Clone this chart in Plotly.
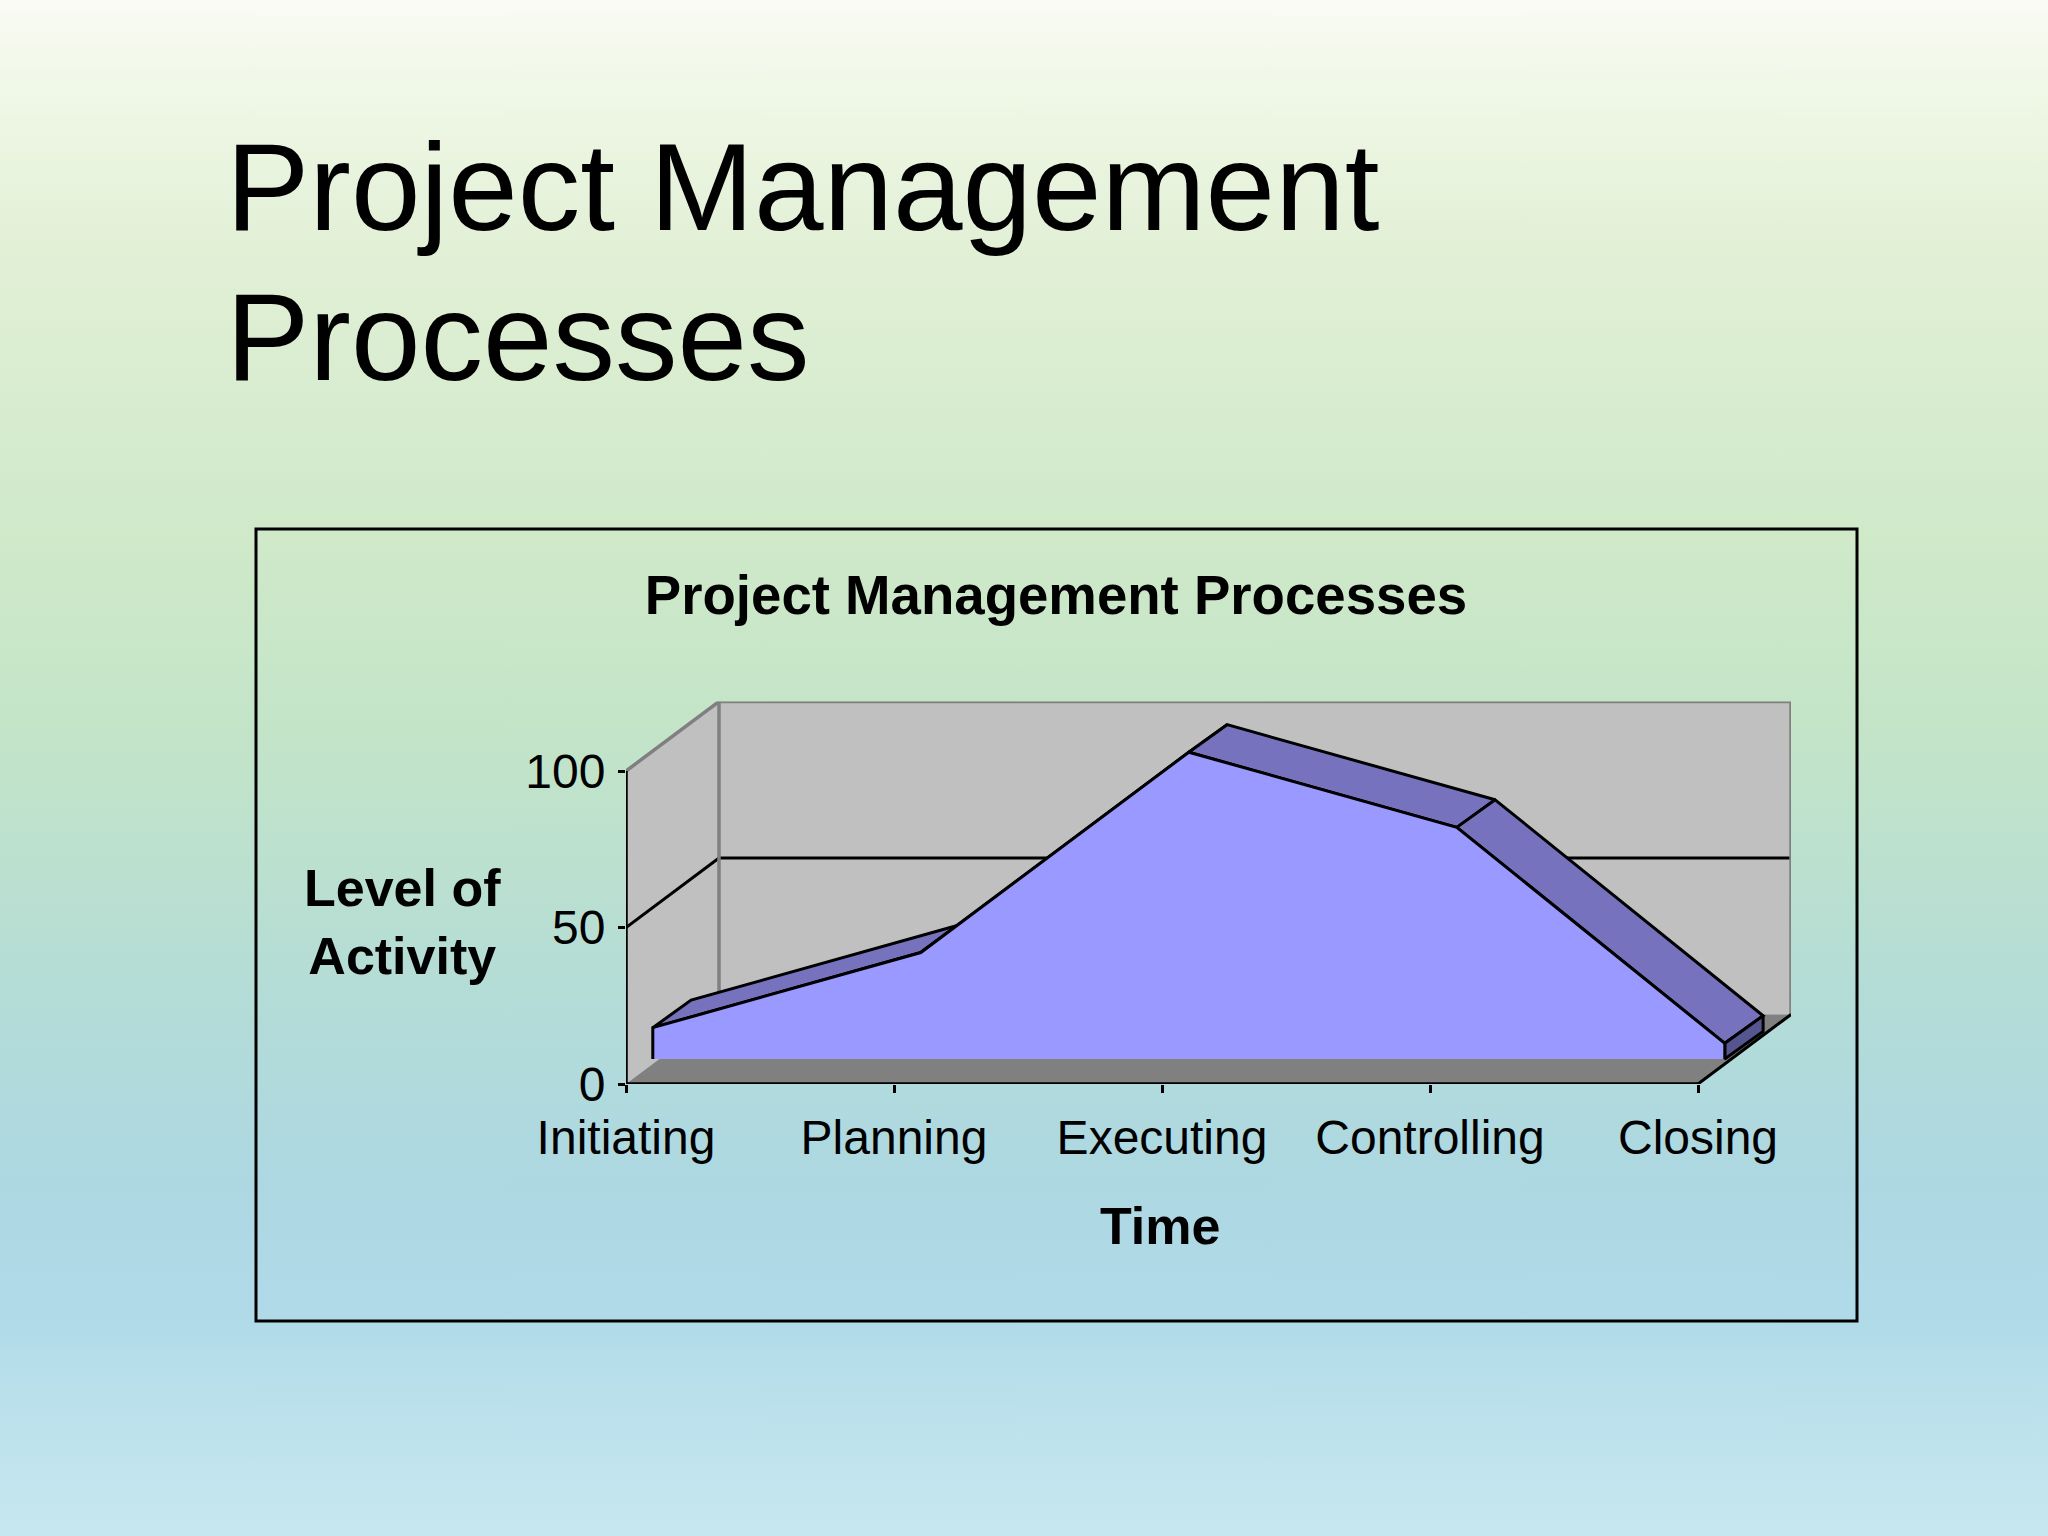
import plotly.graph_objects as go

SLIDE_TITLE = ['Project Management', 'Processes']
CHART_TITLE = 'Project Management Processes'
X_TITLE = 'Time'
Y_TITLE = 'Level of<br>Activity'

categories = ['Initiating', 'Planning', 'Executing', 'Controlling', 'Closing']
activity = [10, 34, 98, 74, 5]
y_ticks = [0, 50, 100]
grid_values = [50]

FONT = 'Liberation Sans'
WALL_COLOR = '#c0c0c0'
FLOOR_COLOR = '#808080'
EDGE_COLOR = '#808080'
FRONT_COLOR = '#9999ff'
TOP_COLOR = '#7672bd'
CAP_COLOR = '#55558f'
LINE_COLOR = '#000000'

# page gradient goes on the body, the figure itself is transparent
GRADIENT = ('linear-gradient(180deg, #fafbf5 0%, #f1f8e8 5%, #e2f0d6 16%, #cfe9c9 35%, '
            '#c3e4c8 48%, #bbe0d0 57%, #b2dbd9 67%, #add8e2 77%, #b0dae8 86%, '
            '#bce1ec 92%, #c6e7ef 100%)')
JAVASCRIPT = f'''document.body.style.margin = "0";
document.body.style.overflow = "hidden";
document.body.style.background = "{GRADIENT}";'''

W, H = 2048, 1536
LEFT, BOTTOM = 626, 1084
PX_PER_CAT = 268
PX_PER_UNIT = 3.13

# oblique projection of the 3d box, in axis units
WALL_DX, WALL_DY = 0.347, 22.2
FRONT_DX, FRONT_DY = 0.10, 8
BACK_DX, BACK_DY = 0.243, 16.8

x_top = len(categories) - 1 + WALL_DX
y_top = max(y_ticks) + WALL_DY
n = len(categories)

fig = go.Figure()


def poly(xs, ys, fill=None, line=None, width=3):
    fig.add_trace(go.Scatter(
        x=xs,
        y=ys,
        mode='lines',
        fill='toself' if fill else 'none',
        fillcolor=fill,
        line=dict(color=line or 'rgba(0,0,0,0)', width=width if line else 0),
        cliponaxis=False,
        hoverinfo='skip',
        showlegend=False
    ))


# walls and floor
ymax = max(y_ticks)
poly([0, WALL_DX, WALL_DX, 0], [0, WALL_DY, y_top, ymax], WALL_COLOR)
poly([WALL_DX, x_top, x_top, WALL_DX], [WALL_DY, WALL_DY, y_top, y_top], WALL_COLOR)
poly([0, n - 1, x_top, WALL_DX], [0, 0, WALL_DY, WALL_DY], FLOOR_COLOR)

# gridlines
for v in grid_values:
    poly([0, WALL_DX], [v, v + WALL_DY], line=LINE_COLOR)
    poly([WALL_DX, x_top], [v + WALL_DY, v + WALL_DY], line=LINE_COLOR)

# wall edges
poly([0, WALL_DX, x_top, x_top], [ymax, y_top, y_top, WALL_DY], line=EDGE_COLOR, width=3.5)
poly([WALL_DX, WALL_DX], [WALL_DY, y_top], line=EDGE_COLOR, width=3.5)

# series: top ribbons first, the front face covers what is behind it
fx = [i + FRONT_DX for i in range(n)]
fy = [v + FRONT_DY for v in activity]
bx = [i + BACK_DX for i in range(n)]
by = [v + BACK_DY for v in activity]

for i in range(n - 1):
    poly([fx[i], bx[i], bx[i + 1], fx[i + 1], fx[i]],
         [fy[i], by[i], by[i + 1], fy[i + 1], fy[i]], TOP_COLOR, LINE_COLOR)

poly([fx[-1], bx[-1], bx[-1], fx[-1], fx[-1]],
     [fy[-1], by[-1], BACK_DY, FRONT_DY, fy[-1]], CAP_COLOR, LINE_COLOR)

poly([fx[0]] + fx + [fx[-1]], [FRONT_DY] + fy + [FRONT_DY], FRONT_COLOR)
poly([fx[0]] + fx, [FRONT_DY] + fy, line=LINE_COLOR)
poly([fx[-1], fx[-1]], [fy[-1], FRONT_DY], line=LINE_COLOR)

# axis lines, only as long as the front plane
poly([0, 0], [0, ymax], line=LINE_COLOR, width=3.5)
poly([0, n - 1], [0, 0], line=LINE_COLOR, width=3.5)
poly([n - 1, x_top], [0, WALL_DY], line=LINE_COLOR)

fig.update_layout(
    width=W,
    height=H,
    margin=dict(l=0, r=0, t=0, b=0, autoexpand=False),
    paper_bgcolor='rgba(0,0,0,0)',
    plot_bgcolor='rgba(0,0,0,0)',
    font=dict(family=FONT, color='#000000'),
    title=dict(
        text=f'<b>{CHART_TITLE}</b>',
        font=dict(size=54.6, family=FONT, color='#000000'),
        x=1056 / W,
        y=1 - 595 / H,
        xanchor='center',
        yanchor='middle'
    ),
    xaxis=dict(
        domain=[LEFT / W, (LEFT + x_top * PX_PER_CAT) / W],
        range=[0, x_top],
        automargin=False,
        tickmode='array',
        tickvals=list(range(n)),
        ticktext=categories,
        ticks='outside',
        ticklen=8,
        tickwidth=3,
        tickcolor=LINE_COLOR,
        tickfont=dict(size=48, family=FONT),
        ticklabelstandoff=3,
        showgrid=False,
        zeroline=False,
        showline=False
    ),
    yaxis=dict(
        domain=[1 - BOTTOM / H, 1 - (BOTTOM - y_top * PX_PER_UNIT) / H],
        range=[0, y_top],
        automargin=False,
        tickmode='array',
        tickvals=y_ticks,
        ticks='outside',
        ticklen=7,
        tickwidth=3,
        tickcolor=LINE_COLOR,
        tickfont=dict(size=48, family=FONT),
        ticklabelstandoff=3,
        showgrid=False,
        zeroline=False,
        showline=False
    ),
    shapes=[dict(
        type='rect',
        xref='paper',
        yref='paper',
        x0=256 / W,
        x1=1857 / W,
        y0=1 - 1321 / H,
        y1=1 - 529 / H,
        line=dict(color=LINE_COLOR, width=3)
    )]
)

for text, y_px in zip(SLIDE_TITLE, [186, 336]):
    fig.add_annotation(
        text=text,
        xref='paper', yref='paper',
        x=224 / W, y=1 - y_px / H,
        xanchor='left', yanchor='middle',
        showarrow=False,
        font=dict(size=125, family=FONT, color='#000000')
    )

fig.add_annotation(
    text=f'<b>{Y_TITLE}</b>',
    xref='paper', yref='paper',
    x=402 / W, y=1 - 922 / H,
    xanchor='center', yanchor='middle',
    showarrow=False,
    font=dict(size=52, family=FONT, color='#000000')
)
fig.add_annotation(
    text=f'<b>{X_TITLE}</b>',
    xref='paper', yref='paper',
    x=1160 / W, y=1 - 1226 / H,
    xanchor='center', yanchor='middle',
    showarrow=False,
    font=dict(size=52, family=FONT, color='#000000')
)

fig.write_html('out.html', config={'displayModeBar': False}, post_script=[JAVASCRIPT])
